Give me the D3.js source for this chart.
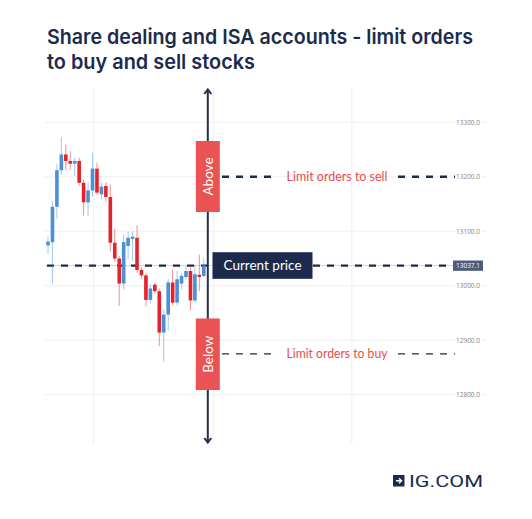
<!DOCTYPE html>
<html>
<head>
<meta charset="utf-8">
<script src="https://cdn.jsdelivr.net/npm/d3@7"></script>
<style>
  body { margin: 0; background: #fff; }
  svg { display: block; }
</style>
</head>
<body>
<div id="chart"></div>
<script>
// candle data, one entry per session (left to right)
const candleOpen = [13074, 13080, 13145, 13212, 13241, 13229, 13224, 13229, 13189, 13153, 13175, 13215,
  13168, 13183, 13163, 13079, 13050, 13004, 13073, 13086, 13088, 13029, 13019, 12974,
  13002, 12990, 12914, 12947, 13006, 12969, 13004, 13016, 13027, 12973, 13020, 13018];
const candleHigh = [13090, 13155, 13223, 13272, 13259, 13247, 13235, 13235, 13195, 13190, 13244, 13226,
  13189, 13190, 13186, 13105, 13055, 13094, 13100, 13100, 13111, 13034, 13023, 13002,
  13006, 12995, 12957, 13012, 13030, 13027, 13024, 13036, 13034, 13039, 13057, 13051];
const candleLow = [13059, 13004, 13122, 13204, 13213, 13213, 13202, 13184, 13129, 13129, 13164, 13167,
  13158, 13155, 13062, 13045, 12963, 12993, 13048, 13045, 13024, 13012, 12962, 12968,
  12986, 12889, 12860, 12917, 12964, 12964, 12993, 13012, 12955, 12969, 12990, 13015];
const candleClose = [13081, 13145, 13212, 13241, 13229, 13224, 13229, 13189, 13153, 13175, 13215, 13171,
  13182, 13163, 13079, 13050, 13004, 13080, 13088, 13090, 13029, 13019, 12974, 12995,
  12990, 12914, 12947, 13006, 12969, 13012, 13018, 13027, 12973, 13021, 13016, 13037.1];

const priceTicks = [13300, 13200, 13100, 13000, 12900, 12800];
const timeGrid = [10.2, 37.15, 68.25];   // vertical grid positions in candle index units
const currentPrice = 13037.1;
const sellLevel = 13200;
const buyLevel = 12875;

const titleLines = ["Share dealing and ISA accounts - limit orders", "to buy and sell stocks"];

const navy = "#1c2b4d";
const coral = "#ea5353";
const blue = "#4b8fd5";
const red = "#e2232b";

const width = 532, height = 519;
const plotTop = 88, plotBottom = 444, plotLeft = 45, plotRight = 452;

const svg = d3.select("#chart").append("svg")
  .attr("width", width)
  .attr("height", height);

svg.append("rect").attr("width", width).attr("height", height).attr("fill", "#fff");

// title
svg.append("g").selectAll("text")
  .data(titleLines)
  .enter()
  .append("text")
  .attr("x", 47)
  .attr("y", (d, i) => 43.5 + i * 25)
  .attr("font-family", "Inter, 'Open Sans', sans-serif")
  .attr("font-weight", 600)
  .attr("font-size", 20.5)
  .attr("fill", navy)
  .attr("textLength", (d, i) => i == 0 ? 426 : 208)
  .attr("lengthAdjust", "spacingAndGlyphs")
  .text(d => d);

const xScale = d3.scaleLinear()
  .domain([0, 35])
  .range([48, 203.8]);

const yScale = d3.scaleLinear()
  .domain([12800, 13300])
  .range([394.7, 122.3]);

// grid
svg.append("g").selectAll("line")
  .data(priceTicks)
  .enter()
  .append("line")
  .attr("x1", plotLeft)
  .attr("x2", 486)
  .attr("y1", d => yScale(d))
  .attr("y2", d => yScale(d))
  .attr("stroke", "#efefef")
  .attr("stroke-width", 1);

svg.append("g").selectAll("line")
  .data(timeGrid)
  .enter()
  .append("line")
  .attr("x1", d => xScale(d))
  .attr("x2", d => xScale(d))
  .attr("y1", plotTop)
  .attr("y2", plotBottom)
  .attr("stroke", "#efefef")
  .attr("stroke-width", 1);

// y axis labels on the right
let yAxis = d3.axisRight(yScale)
  .tickValues(priceTicks)
  .tickFormat(d3.format(".1f"))
  .tickSize(0)
  .tickPadding(0);

let axisG = svg.append("g")
  .attr("transform", "translate(456,0)")
  .call(yAxis);
axisG.select(".domain").remove();
axisG.selectAll("text")
  .attr("font-family", "'Open Sans', sans-serif")
  .attr("font-size", 6.5)
  .attr("fill", "#858585")
  .each(function () {
    // white backing so the grid line stops behind the label
    let bb = this.getBBox();
    d3.select(this.parentNode).insert("rect", "text")
      .attr("x", bb.x - 1).attr("y", bb.y)
      .attr("width", bb.width + 2).attr("height", bb.height)
      .attr("fill", "#fff");
  });

// current price line (thin grey + navy dashes)
let cy = yScale(currentPrice);
svg.append("line")
  .attr("x1", plotLeft).attr("x2", 453)
  .attr("y1", cy).attr("y2", cy)
  .attr("stroke", "#d0d3da").attr("stroke-width", 1);
svg.append("line")
  .attr("x1", 47).attr("x2", 453)
  .attr("y1", cy).attr("y2", cy)
  .attr("stroke", navy).attr("stroke-width", 2.2)
  .attr("stroke-dasharray", "7,7");

// candles
let candles = svg.append("g").selectAll("g")
  .data(candleOpen.map((o, i) => ({ i: i, o: o, h: candleHigh[i], l: candleLow[i], c: candleClose[i] })))
  .enter()
  .append("g");

candles.append("line")
  .attr("x1", d => xScale(d.i))
  .attr("x2", d => xScale(d.i))
  .attr("y1", d => yScale(d.h))
  .attr("y2", d => yScale(d.l))
  .attr("stroke", d => d.c >= d.o ? blue : red)
  .attr("stroke-opacity", 0.5)
  .attr("stroke-width", 1);

candles.append("rect")
  .attr("x", d => xScale(d.i) - 1.8)
  .attr("width", 3.6)
  .attr("y", d => yScale(Math.max(d.o, d.c)))
  .attr("height", d => Math.max(1.5, Math.abs(yScale(d.o) - yScale(d.c))))
  .attr("fill", d => d.c >= d.o ? blue : red);

// limit order levels
function levelLine(price, stroke, textLabel) {
  let y = yScale(price);
  let g = svg.append("g");
  g.append("line")
    .attr("x1", 222).attr("x2", 278)
    .attr("y1", y).attr("y2", y)
    .attr("stroke", navy).attr("stroke-width", stroke)
    .attr("stroke-dasharray", "7,7");
  g.append("line")
    .attr("x1", 398).attr("x2", 455)
    .attr("y1", y).attr("y2", y)
    .attr("stroke", navy).attr("stroke-width", stroke)
    .attr("stroke-dasharray", "7,7");
  g.append("text")
    .attr("x", 337).attr("y", y + 4.2)
    .attr("text-anchor", "middle")
    .attr("font-family", "Lato, 'Open Sans', sans-serif")
    .attr("font-size", 12.5)
    .attr("fill", "#e84c4b")
    .attr("textLength", 101)
    .attr("lengthAdjust", "spacingAndGlyphs")
    .text(textLabel);
}
levelLine(sellLevel, 2.6, "Limit orders to sell");
levelLine(buyLevel, 1.3, "Limit orders to buy");

// double arrow
let ax = xScale(35.9);
svg.append("line")
  .attr("x1", ax).attr("x2", ax)
  .attr("y1", plotTop + 2).attr("y2", plotBottom - 2)
  .attr("stroke", "#272e50").attr("stroke-width", 2);
svg.append("polyline")
  .attr("points", [[ax - 3.5, plotTop + 6], [ax, plotTop + 1.5], [ax + 3.5, plotTop + 6]].join(" "))
  .attr("fill", "none").attr("stroke", "#272e50").attr("stroke-width", 2);
svg.append("polyline")
  .attr("points", [[ax - 3.5, plotBottom - 6], [ax, plotBottom - 1.5], [ax + 3.5, plotBottom - 6]].join(" "))
  .attr("fill", "none").attr("stroke", "#272e50").attr("stroke-width", 2);

// Above / Below boxes
function sideBox(y0, y1, label) {
  let g = svg.append("g");
  g.append("rect")
    .attr("x", ax - 12).attr("width", 24)
    .attr("y", y0).attr("height", y1 - y0)
    .attr("fill", coral);
  g.append("text")
    .attr("transform", "translate(" + (ax + 4.7) + "," + ((y0 + y1) / 2) + ") rotate(-90)")
    .attr("text-anchor", "middle")
    .attr("font-family", "Lato, 'Open Sans', sans-serif")
    .attr("font-size", 13.5)
    .attr("fill", "#fff")
    .text(label);
}
sideBox(141, 212, "Above");
sideBox(318.5, 390, "Below");

// current price box
svg.append("rect")
  .attr("x", 212.5).attr("y", cy - 13.3)
  .attr("width", 100).attr("height", 26.6)
  .attr("fill", navy);
svg.append("text")
  .attr("x", 262.5).attr("y", cy + 4.6)
  .attr("text-anchor", "middle")
  .attr("font-family", "Lato, 'Open Sans', sans-serif")
  .attr("font-size", 13.5)
  .attr("fill", "#fff")
  .text("Current price");

// price tag on the axis
svg.append("rect")
  .attr("x", 453).attr("y", cy - 5)
  .attr("width", 30).attr("height", 10.3)
  .attr("fill", "#4d5c7c");
svg.append("text")
  .attr("x", 468).attr("y", cy + 2.3)
  .attr("text-anchor", "middle")
  .attr("font-family", "'Open Sans', sans-serif")
  .attr("font-size", 6.5)
  .attr("fill", "#fff")
  .text(d3.format(".1f")(currentPrice));

// logo
let logo = svg.append("g");
logo.append("rect")
  .attr("x", 393).attr("y", 475).attr("width", 11.5).attr("height", 11.5)
  .attr("fill", navy);
logo.append("path")
  .attr("d", "M396 480.75 H401.5 M399 478.2 L401.6 480.75 L399 483.3")
  .attr("fill", "none").attr("stroke", "#fff").attr("stroke-width", 1.3);
logo.append("text")
  .attr("x", 409).attr("y", 486.7)
  .attr("font-family", "Roboto, sans-serif")
  .attr("font-size", 16)
  .attr("fill", navy)
  .attr("textLength", 74)
  .attr("lengthAdjust", "spacingAndGlyphs")
  .text("IG.COM");
</script>
</body>
</html>
